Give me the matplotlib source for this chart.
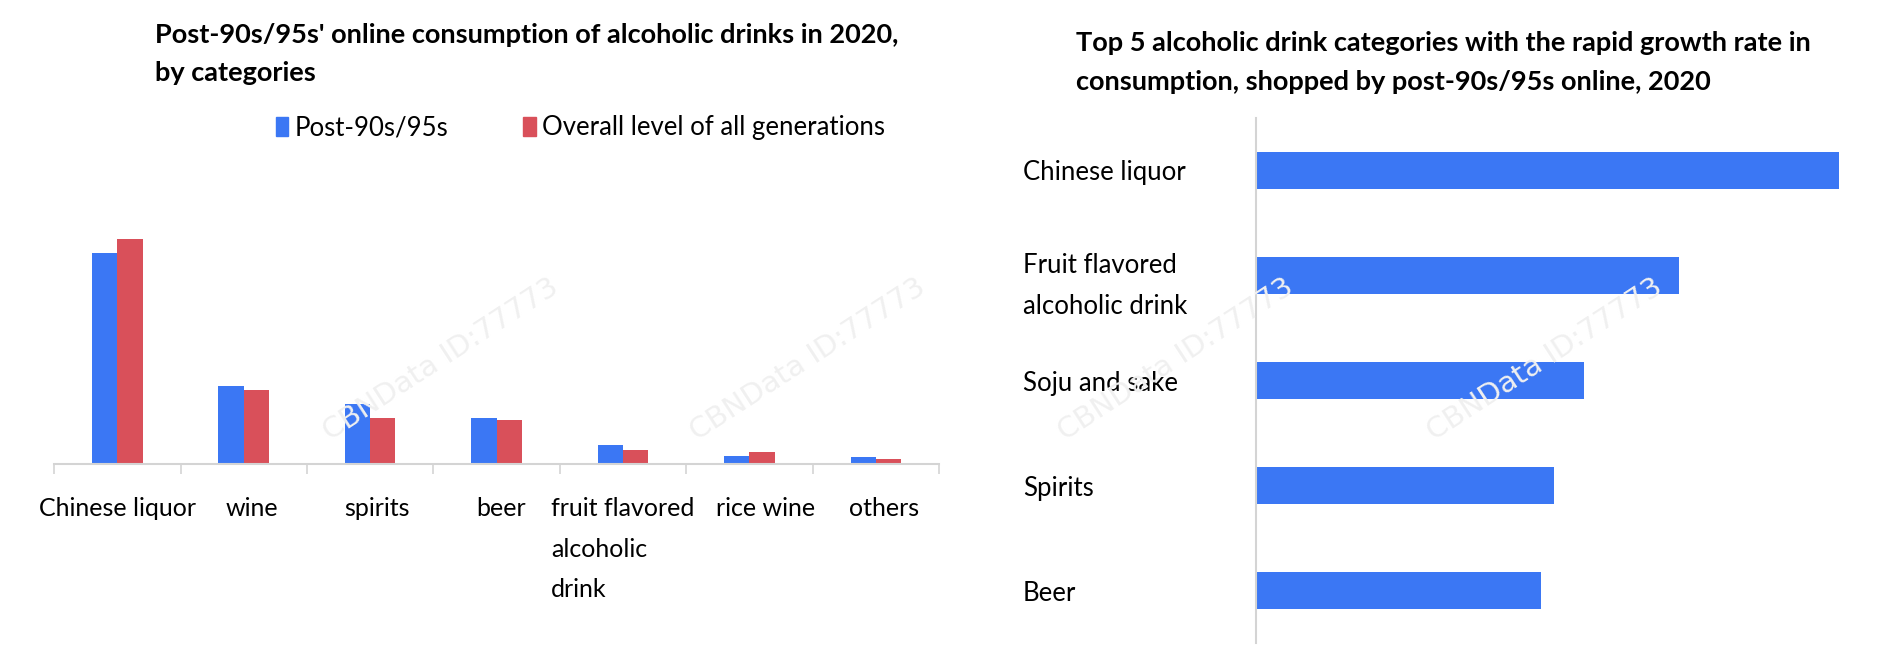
import matplotlib
matplotlib.use("Agg")
import matplotlib.pyplot as plt
import matplotlib.transforms as mtransforms
from matplotlib.patches import Patch

plt.rcParams['font.family'] = ['Lato', 'DejaVu Sans']

# left chart data (share, %)
categories = ['Chinese liquor', 'wine', 'spirits', 'beer',
              'fruit flavored\nalcoholic\ndrink', 'rice wine', 'others']
post90s = [49.6, 18.4, 14.1, 10.9, 4.4, 1.8, 1.7]
overall = [52.9, 17.3, 10.9, 10.4, 3.4, 2.8, 1.2]

# right chart data (relative growth index)
top5 = ['Chinese liquor', 'Fruit flavored\nalcoholic drink', 'Soju and sake',
        'Spirits', 'Beer']
growth = [100, 72.6, 56.3, 51.1, 48.9]

blue = '#3b77f4'
red = '#d9505a'
grey = '#d4d4d4'

fig = plt.figure(figsize=(18.91, 6.53), dpi=100)

# ---- left: grouped bars
ax1 = fig.add_axes([0.0286, 0.2894, 0.4680, 0.4043])
x = list(range(len(categories)))
ax1.bar([i - 0.1 for i in x], post90s, width=0.2, color=blue)
ax1.bar([i + 0.1 for i in x], overall, width=0.2, color=red)
ax1.set_xlim(-0.5, len(categories) - 0.5)
ax1.set_ylim(0, 62.1)
for s in ['top', 'right', 'left']:
    ax1.spines[s].set_visible(False)
ax1.spines['bottom'].set_color(grey)
ax1.spines['bottom'].set_linewidth(1.5)
ax1.set_yticks([])
ax1.set_xticks(x)
ax1.set_xticklabels(categories, fontsize=18, multialignment='left',
                    linespacing=1.92, va='top')
ax1.set_xticks([i - 0.5 for i in range(len(categories) + 1)], minor=True)
ax1.tick_params(axis='x', which='major', length=0, pad=24)
ax1.tick_params(axis='x', which='minor', length=7, color=grey, width=1.2)
# labels sit a little to the right of the category centres
shifts = [0, 8, 7, 4, 0, 16, 8]
for lab, dx in zip(ax1.get_xticklabels(), shifts):
    lab.set_transform(lab.get_transform() +
                      mtransforms.ScaledTranslation(dx / 100, 0, fig.dpi_scale_trans))

fig.text(0.082, 0.965, "Post-90s/95s' online consumption of alcoholic drinks in 2020,\nby categories",
         fontsize=19.5, fontweight='bold', va='top', ha='left', linespacing=1.7)

handles = [Patch(color=blue, label='Post-90s/95s'),
           Patch(color=red, label='Overall level of all generations')]
fig.legend(handles=handles, loc='center left', bbox_to_anchor=(0.1335, 0.804),
           ncol=2, frameon=False, fontsize=18.5, handlelength=0.5,
           handleheight=0.8, handletextpad=0.25, columnspacing=2.9)

# ---- right: horizontal bars
ax2 = fig.add_axes([0.6642, 0.0153, 0.3278, 0.8040])
y = list(range(len(top5)))
ax2.barh(y, growth, height=0.345, color=blue)
ax2.set_ylim(len(top5) - 0.5, -0.5)
ax2.set_xlim(0, 106.3)
for s in ['top', 'right', 'bottom']:
    ax2.spines[s].set_visible(False)
ax2.spines['left'].set_color(grey)
ax2.spines['left'].set_linewidth(1.5)
ax2.set_xticks([])
ax2.set_yticks(y)
ax2.set_yticklabels(top5, fontsize=18.5, ha='left', linespacing=1.78)
ax2.tick_params(axis='y', length=0, pad=168)

fig.text(0.569, 0.952, "Top 5 alcoholic drink categories with the rapid growth rate in\nconsumption, shopped by post-90s/95s online, 2020",
         fontsize=19.5, fontweight='bold', va='top', ha='left', linespacing=1.75)

# watermark
for wx in [0.233, 0.427, 0.622, 0.817]:
    fig.text(wx, 0.45, 'CBNData ID:77773', fontsize=21, color='#f0f0f0',
             rotation=33, ha='center', va='center', family='DejaVu Sans')

fig.savefig('out.png', dpi=100, facecolor='white')
